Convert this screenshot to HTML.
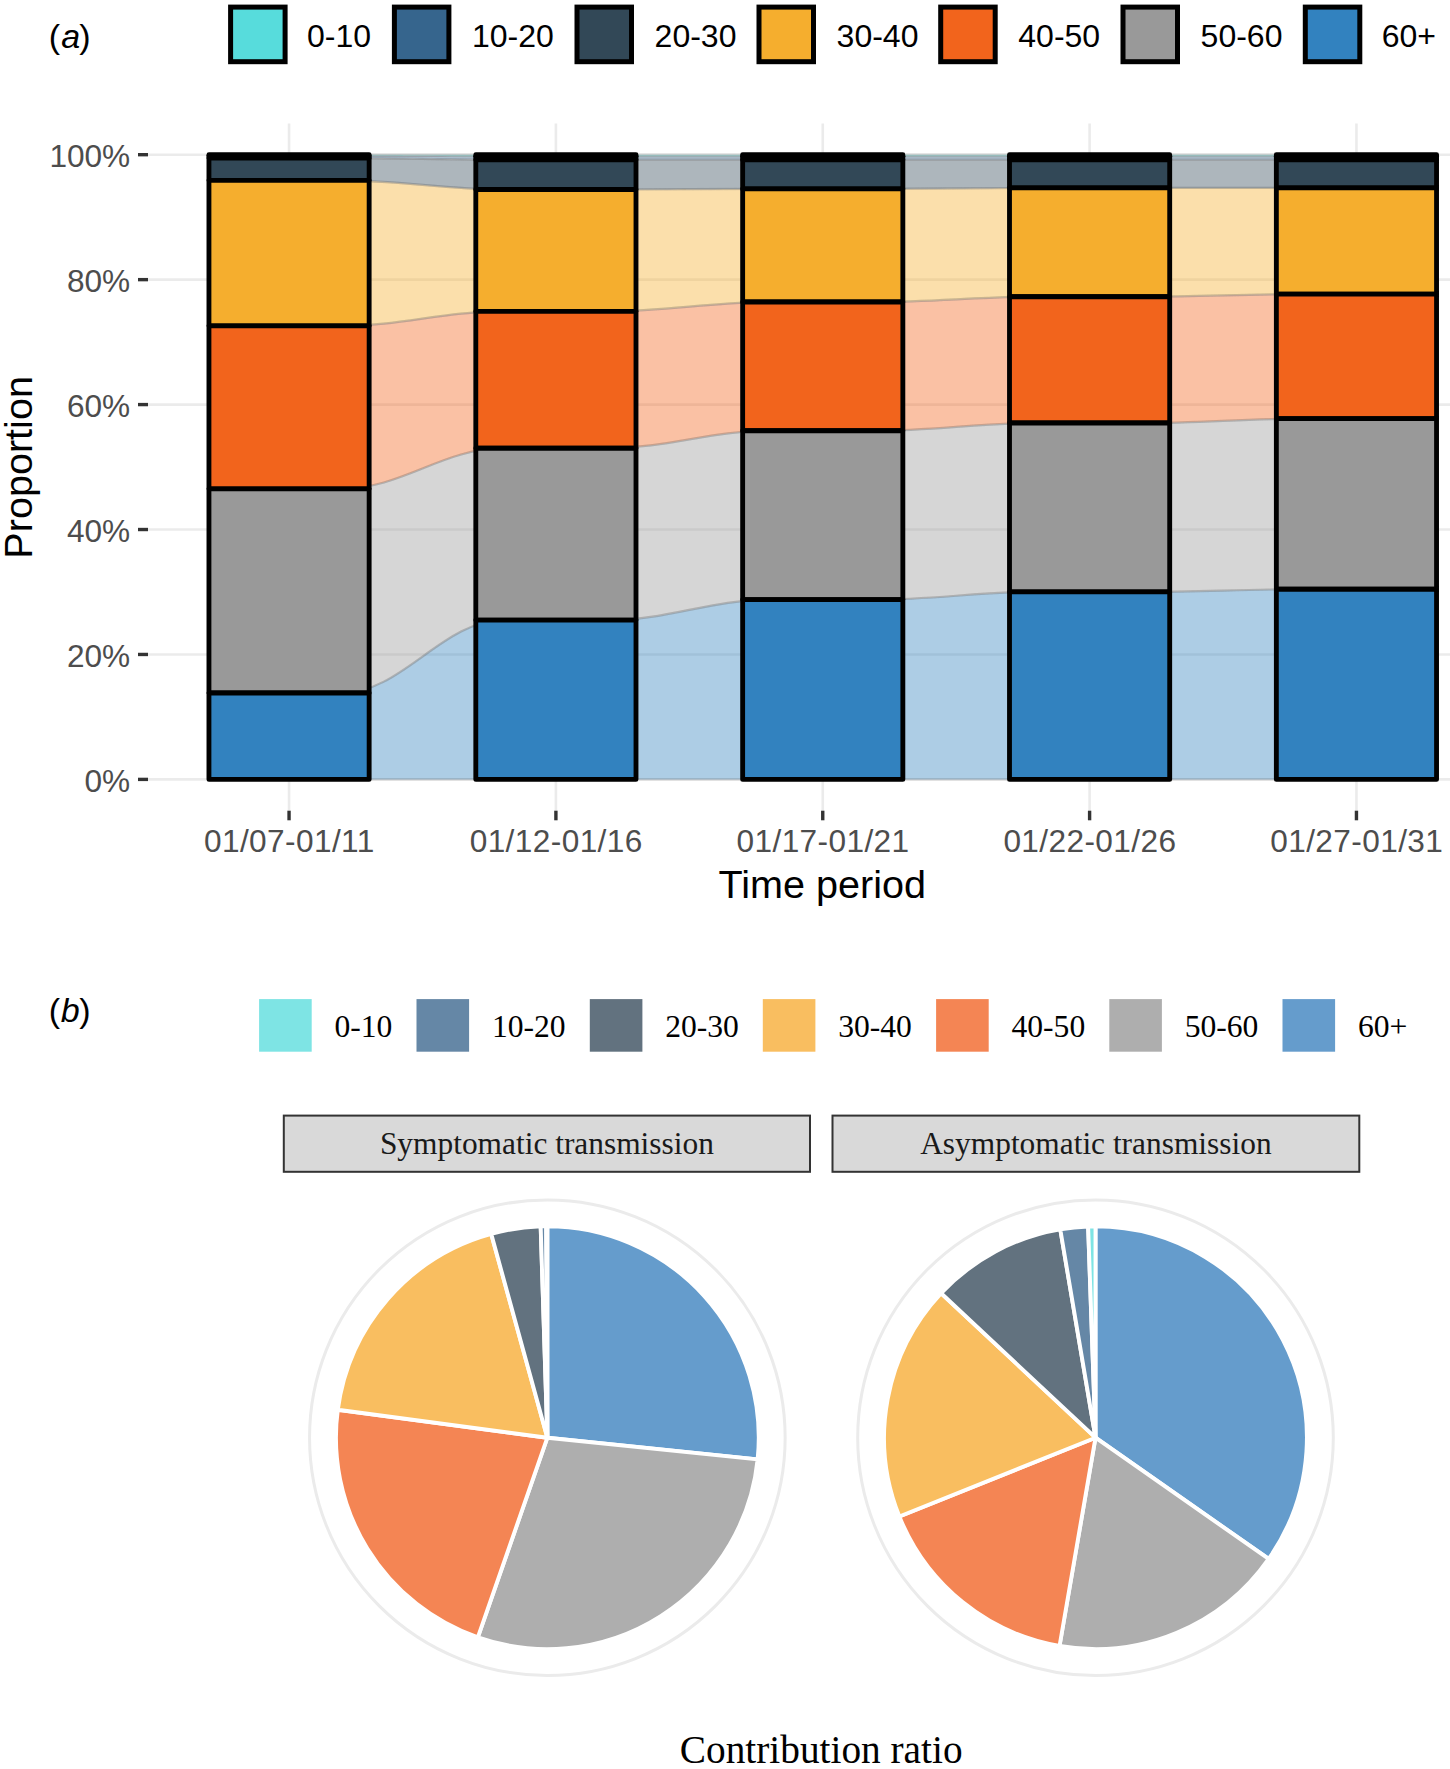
<!DOCTYPE html>
<html lang="en"><head><meta charset="utf-8"><title>Figure</title>
<style>html,body{margin:0;padding:0;background:#fff}svg{display:block}</style></head>
<body>
<svg width="1450" height="1769" viewBox="0 0 1450 1769">
<rect width="1450" height="1769" fill="#fff"/>
<g stroke="#ebebeb" stroke-width="2.6" fill="none">
<line x1="148.0" x2="1450" y1="779.40" y2="779.40"/>
<line x1="148.0" x2="1450" y1="654.46" y2="654.46"/>
<line x1="148.0" x2="1450" y1="529.52" y2="529.52"/>
<line x1="148.0" x2="1450" y1="404.58" y2="404.58"/>
<line x1="148.0" x2="1450" y1="279.64" y2="279.64"/>
<line x1="148.0" x2="1450" y1="154.70" y2="154.70"/>
<line x1="289.05" x2="289.05" y1="123.5" y2="810.7"/>
<line x1="555.90" x2="555.90" y1="123.5" y2="810.7"/>
<line x1="822.75" x2="822.75" y1="123.5" y2="810.7"/>
<line x1="1089.60" x2="1089.60" y1="123.5" y2="810.7"/>
<line x1="1356.45" x2="1356.45" y1="123.5" y2="810.7"/>
</g>
<g fill-opacity="0.4" stroke="#808080" stroke-opacity="0.28" stroke-width="2.2">
<path d="M341.05,693.00 C402.93,693.00 442.02,620.10 503.90,620.10 L503.90,779.40 C442.02,779.40 402.93,779.40 341.05,779.40 Z" fill="#3282BF"/>
<path d="M341.05,488.80 C402.93,488.80 442.02,448.20 503.90,448.20 L503.90,620.10 C442.02,620.10 402.93,693.00 341.05,693.00 Z" fill="#999999"/>
<path d="M341.05,325.80 C402.93,325.80 442.02,311.30 503.90,311.30 L503.90,448.20 C442.02,448.20 402.93,488.80 341.05,488.80 Z" fill="#F2641C"/>
<path d="M341.05,180.30 C402.93,180.30 442.02,189.50 503.90,189.50 L503.90,311.30 C442.02,311.30 402.93,325.80 341.05,325.80 Z" fill="#F5AE2E"/>
<path d="M341.05,158.10 C402.93,158.10 442.02,159.70 503.90,159.70 L503.90,189.50 C442.02,189.50 402.93,180.30 341.05,180.30 Z" fill="#324857"/>
<path d="M341.05,155.70 C402.93,155.70 442.02,156.20 503.90,156.20 L503.90,159.70 C442.02,159.70 402.93,158.10 341.05,158.10 Z" fill="#36658D"/>
<path d="M341.05,154.70 C402.93,154.70 442.02,154.70 503.90,154.70 L503.90,156.20 C442.02,156.20 402.93,155.70 341.05,155.70 Z" fill="#57DCDC"/>
<path d="M607.90,620.10 C669.78,620.10 708.87,599.60 770.75,599.60 L770.75,779.40 C708.87,779.40 669.78,779.40 607.90,779.40 Z" fill="#3282BF"/>
<path d="M607.90,448.20 C669.78,448.20 708.87,430.70 770.75,430.70 L770.75,599.60 C708.87,599.60 669.78,620.10 607.90,620.10 Z" fill="#999999"/>
<path d="M607.90,311.30 C669.78,311.30 708.87,302.00 770.75,302.00 L770.75,430.70 C708.87,430.70 669.78,448.20 607.90,448.20 Z" fill="#F2641C"/>
<path d="M607.90,189.50 C669.78,189.50 708.87,188.90 770.75,188.90 L770.75,302.00 C708.87,302.00 669.78,311.30 607.90,311.30 Z" fill="#F5AE2E"/>
<path d="M607.90,159.70 C669.78,159.70 708.87,159.70 770.75,159.70 L770.75,188.90 C708.87,188.90 669.78,189.50 607.90,189.50 Z" fill="#324857"/>
<path d="M607.90,156.20 C669.78,156.20 708.87,156.20 770.75,156.20 L770.75,159.70 C708.87,159.70 669.78,159.70 607.90,159.70 Z" fill="#36658D"/>
<path d="M607.90,154.70 C669.78,154.70 708.87,154.70 770.75,154.70 L770.75,156.20 C708.87,156.20 669.78,156.20 607.90,156.20 Z" fill="#57DCDC"/>
<path d="M874.75,599.60 C936.63,599.60 975.72,591.90 1037.60,591.90 L1037.60,779.40 C975.72,779.40 936.63,779.40 874.75,779.40 Z" fill="#3282BF"/>
<path d="M874.75,430.70 C936.63,430.70 975.72,423.00 1037.60,423.00 L1037.60,591.90 C975.72,591.90 936.63,599.60 874.75,599.60 Z" fill="#999999"/>
<path d="M874.75,302.00 C936.63,302.00 975.72,296.70 1037.60,296.70 L1037.60,423.00 C975.72,423.00 936.63,430.70 874.75,430.70 Z" fill="#F2641C"/>
<path d="M874.75,188.90 C936.63,188.90 975.72,187.90 1037.60,187.90 L1037.60,296.70 C975.72,296.70 936.63,302.00 874.75,302.00 Z" fill="#F5AE2E"/>
<path d="M874.75,159.70 C936.63,159.70 975.72,159.70 1037.60,159.70 L1037.60,187.90 C975.72,187.90 936.63,188.90 874.75,188.90 Z" fill="#324857"/>
<path d="M874.75,156.20 C936.63,156.20 975.72,156.20 1037.60,156.20 L1037.60,159.70 C975.72,159.70 936.63,159.70 874.75,159.70 Z" fill="#36658D"/>
<path d="M874.75,154.70 C936.63,154.70 975.72,154.70 1037.60,154.70 L1037.60,156.20 C975.72,156.20 936.63,156.20 874.75,156.20 Z" fill="#57DCDC"/>
<path d="M1141.60,591.90 C1203.48,591.90 1242.57,589.20 1304.45,589.20 L1304.45,779.40 C1242.57,779.40 1203.48,779.40 1141.60,779.40 Z" fill="#3282BF"/>
<path d="M1141.60,423.00 C1203.48,423.00 1242.57,418.60 1304.45,418.60 L1304.45,589.20 C1242.57,589.20 1203.48,591.90 1141.60,591.90 Z" fill="#999999"/>
<path d="M1141.60,296.70 C1203.48,296.70 1242.57,294.10 1304.45,294.10 L1304.45,418.60 C1242.57,418.60 1203.48,423.00 1141.60,423.00 Z" fill="#F2641C"/>
<path d="M1141.60,187.90 C1203.48,187.90 1242.57,187.90 1304.45,187.90 L1304.45,294.10 C1242.57,294.10 1203.48,296.70 1141.60,296.70 Z" fill="#F5AE2E"/>
<path d="M1141.60,159.70 C1203.48,159.70 1242.57,159.70 1304.45,159.70 L1304.45,187.90 C1242.57,187.90 1203.48,187.90 1141.60,187.90 Z" fill="#324857"/>
<path d="M1141.60,156.20 C1203.48,156.20 1242.57,156.20 1304.45,156.20 L1304.45,159.70 C1242.57,159.70 1203.48,159.70 1141.60,159.70 Z" fill="#36658D"/>
<path d="M1141.60,154.70 C1203.48,154.70 1242.57,154.70 1304.45,154.70 L1304.45,156.20 C1242.57,156.20 1203.48,156.20 1141.60,156.20 Z" fill="#57DCDC"/>
</g>
<g stroke="#000" stroke-width="4.85" stroke-linejoin="round">
<rect x="208.95" y="154.70" width="160.2" height="1.00" fill="#57DCDC"/>
<rect x="208.95" y="155.70" width="160.2" height="2.40" fill="#36658D"/>
<rect x="208.95" y="158.10" width="160.2" height="22.20" fill="#324857"/>
<rect x="208.95" y="180.30" width="160.2" height="145.50" fill="#F5AE2E"/>
<rect x="208.95" y="325.80" width="160.2" height="163.00" fill="#F2641C"/>
<rect x="208.95" y="488.80" width="160.2" height="204.20" fill="#999999"/>
<rect x="208.95" y="693.00" width="160.2" height="86.40" fill="#3282BF"/>
<rect x="475.80" y="154.70" width="160.2" height="1.50" fill="#57DCDC"/>
<rect x="475.80" y="156.20" width="160.2" height="3.50" fill="#36658D"/>
<rect x="475.80" y="159.70" width="160.2" height="29.80" fill="#324857"/>
<rect x="475.80" y="189.50" width="160.2" height="121.80" fill="#F5AE2E"/>
<rect x="475.80" y="311.30" width="160.2" height="136.90" fill="#F2641C"/>
<rect x="475.80" y="448.20" width="160.2" height="171.90" fill="#999999"/>
<rect x="475.80" y="620.10" width="160.2" height="159.30" fill="#3282BF"/>
<rect x="742.65" y="154.70" width="160.2" height="1.50" fill="#57DCDC"/>
<rect x="742.65" y="156.20" width="160.2" height="3.50" fill="#36658D"/>
<rect x="742.65" y="159.70" width="160.2" height="29.20" fill="#324857"/>
<rect x="742.65" y="188.90" width="160.2" height="113.10" fill="#F5AE2E"/>
<rect x="742.65" y="302.00" width="160.2" height="128.70" fill="#F2641C"/>
<rect x="742.65" y="430.70" width="160.2" height="168.90" fill="#999999"/>
<rect x="742.65" y="599.60" width="160.2" height="179.80" fill="#3282BF"/>
<rect x="1009.50" y="154.70" width="160.2" height="1.50" fill="#57DCDC"/>
<rect x="1009.50" y="156.20" width="160.2" height="3.50" fill="#36658D"/>
<rect x="1009.50" y="159.70" width="160.2" height="28.20" fill="#324857"/>
<rect x="1009.50" y="187.90" width="160.2" height="108.80" fill="#F5AE2E"/>
<rect x="1009.50" y="296.70" width="160.2" height="126.30" fill="#F2641C"/>
<rect x="1009.50" y="423.00" width="160.2" height="168.90" fill="#999999"/>
<rect x="1009.50" y="591.90" width="160.2" height="187.50" fill="#3282BF"/>
<rect x="1276.35" y="154.70" width="160.2" height="1.50" fill="#57DCDC"/>
<rect x="1276.35" y="156.20" width="160.2" height="3.50" fill="#36658D"/>
<rect x="1276.35" y="159.70" width="160.2" height="28.20" fill="#324857"/>
<rect x="1276.35" y="187.90" width="160.2" height="106.20" fill="#F5AE2E"/>
<rect x="1276.35" y="294.10" width="160.2" height="124.50" fill="#F2641C"/>
<rect x="1276.35" y="418.60" width="160.2" height="170.60" fill="#999999"/>
<rect x="1276.35" y="589.20" width="160.2" height="190.20" fill="#3282BF"/>
</g>
<g stroke="#333" stroke-width="3.4" fill="none">
<line x1="138" x2="148.0" y1="779.40" y2="779.40"/>
<line x1="138" x2="148.0" y1="654.46" y2="654.46"/>
<line x1="138" x2="148.0" y1="529.52" y2="529.52"/>
<line x1="138" x2="148.0" y1="404.58" y2="404.58"/>
<line x1="138" x2="148.0" y1="279.64" y2="279.64"/>
<line x1="138" x2="148.0" y1="154.70" y2="154.70"/>
<line x1="289.05" x2="289.05" y1="810.7" y2="820.3000000000001"/>
<line x1="555.90" x2="555.90" y1="810.7" y2="820.3000000000001"/>
<line x1="822.75" x2="822.75" y1="810.7" y2="820.3000000000001"/>
<line x1="1089.60" x2="1089.60" y1="810.7" y2="820.3000000000001"/>
<line x1="1356.45" x2="1356.45" y1="810.7" y2="820.3000000000001"/>
</g>
<g font-family='"Liberation Sans", Arial, Helvetica, sans-serif' font-size="31.6" fill="#4d4d4d">
<text x="130.2" y="791.60" text-anchor="end">0%</text>
<text x="130.2" y="666.66" text-anchor="end">20%</text>
<text x="130.2" y="541.72" text-anchor="end">40%</text>
<text x="130.2" y="416.78" text-anchor="end">60%</text>
<text x="130.2" y="291.84" text-anchor="end">80%</text>
<text x="130.2" y="166.90" text-anchor="end">100%</text>
</g>
<g font-family='"Liberation Sans", Arial, Helvetica, sans-serif' font-size="31.6" letter-spacing="0.4" fill="#4d4d4d">
<text x="289.35" y="852.3" text-anchor="middle">01/07-01/11</text>
<text x="556.20" y="852.3" text-anchor="middle">01/12-01/16</text>
<text x="823.05" y="852.3" text-anchor="middle">01/17-01/21</text>
<text x="1089.90" y="852.3" text-anchor="middle">01/22-01/26</text>
<text x="1356.75" y="852.3" text-anchor="middle">01/27-01/31</text>
</g>
<g font-family='"Liberation Sans", Arial, Helvetica, sans-serif' font-size="39.6" fill="#000">
<text x="822.3" y="897.5" text-anchor="middle">Time period</text>
<text transform="translate(31.7,467.4) rotate(-90)" text-anchor="middle">Proportion</text>
</g>
<g stroke="#000" stroke-width="5">
<rect x="230.60" y="7.1" width="54.5" height="54.6" fill="#57DCDC"/>
<rect x="394.40" y="7.1" width="54.5" height="54.6" fill="#36658D"/>
<rect x="577.00" y="7.1" width="54.5" height="54.6" fill="#324857"/>
<rect x="759.00" y="7.1" width="54.5" height="54.6" fill="#F5AE2E"/>
<rect x="940.70" y="7.1" width="54.5" height="54.6" fill="#F2641C"/>
<rect x="1123.00" y="7.1" width="54.5" height="54.6" fill="#999999"/>
<rect x="1305.30" y="7.1" width="54.5" height="54.6" fill="#3282BF"/>
</g>
<g font-family='"Liberation Sans", Arial, Helvetica, sans-serif' font-size="32" fill="#000">
<text x="307.00" y="46.6">0-10</text>
<text x="472.00" y="46.6">10-20</text>
<text x="654.60" y="46.6">20-30</text>
<text x="836.60" y="46.6">30-40</text>
<text x="1018.30" y="46.6">40-50</text>
<text x="1200.60" y="46.6">50-60</text>
<text x="1381.70" y="46.6">60+</text>
</g>
<g font-family='"Liberation Sans", Arial, Helvetica, sans-serif' font-size="34" fill="#000">
<text x="48.7" y="48.3">(<tspan font-style="italic" dx="1.2">a</tspan><tspan dx="-0.9">)</tspan></text>
<text x="48.7" y="1021.8">(<tspan font-style="italic" dx="0.6">b</tspan><tspan dx="-0.3">)</tspan></text>
</g>
<rect x="259.10" y="999.1" width="52.6" height="52.6" fill="#7EE4E4"/>
<rect x="416.50" y="999.1" width="52.6" height="52.6" fill="#6587A6"/>
<rect x="589.80" y="999.1" width="52.6" height="52.6" fill="#62727F"/>
<rect x="762.80" y="999.1" width="52.6" height="52.6" fill="#F9BE60"/>
<rect x="936.10" y="999.1" width="52.6" height="52.6" fill="#F48554"/>
<rect x="1109.30" y="999.1" width="52.6" height="52.6" fill="#AEAEAE"/>
<rect x="1282.50" y="999.1" width="52.6" height="52.6" fill="#659CCC"/>
<g font-family='"Liberation Serif", "Times New Roman", Times, serif' font-size="31.6" fill="#000">
<text x="334.50" y="1037.1">0-10</text>
<text x="491.90" y="1037.1">10-20</text>
<text x="665.20" y="1037.1">20-30</text>
<text x="838.20" y="1037.1">30-40</text>
<text x="1011.50" y="1037.1">40-50</text>
<text x="1184.70" y="1037.1">50-60</text>
<text x="1357.90" y="1037.1">60+</text>
</g>
<rect x="283.80" y="1115.6" width="526.20" height="56.2" fill="#d9d9d9" stroke="#333" stroke-width="2"/>
<text x="546.90" y="1154.3" text-anchor="middle" font-family='"Liberation Serif", "Times New Roman", Times, serif' font-size="31.4" fill="#1a1a1a">Symptomatic transmission</text>
<rect x="832.50" y="1115.6" width="526.80" height="56.2" fill="#d9d9d9" stroke="#333" stroke-width="2"/>
<text x="1095.90" y="1154.3" text-anchor="middle" font-family='"Liberation Serif", "Times New Roman", Times, serif' font-size="31.4" fill="#1a1a1a">Asymptomatic transmission</text>
<circle cx="547.35" cy="1437.7" r="237.8" fill="none" stroke="#ebebeb" stroke-width="3"/>
<circle cx="1095.5" cy="1437.7" r="237.8" fill="none" stroke="#ebebeb" stroke-width="3"/>
<g stroke="#fff" stroke-width="3.9" stroke-linejoin="round">
<path d="M547.35,1437.70 L547.35,1226.30 A211.4,211.4 0 0 1 757.63,1459.43 Z" fill="#659CCC"/>
<path d="M547.35,1437.70 L757.63,1459.43 A211.4,211.4 0 0 1 477.83,1637.34 Z" fill="#AEAEAE"/>
<path d="M547.35,1437.70 L477.83,1637.34 A211.4,211.4 0 0 1 337.81,1409.74 Z" fill="#F48554"/>
<path d="M547.35,1437.70 L337.81,1409.74 A211.4,211.4 0 0 1 491.21,1233.89 Z" fill="#F9BE60"/>
<path d="M547.35,1437.70 L491.21,1233.89 A211.4,211.4 0 0 1 540.67,1226.41 Z" fill="#62727F"/>
<path d="M547.35,1437.70 L540.67,1226.41 A211.4,211.4 0 0 1 546.21,1226.30 Z" fill="#6587A6"/>
<path d="M547.35,1437.70 L546.21,1226.30 A211.4,211.4 0 0 1 547.35,1226.30 Z" fill="#7EE4E4"/>
</g>
<g stroke="#fff" stroke-width="3.9" stroke-linejoin="round">
<path d="M1095.50,1437.70 L1095.50,1226.30 A211.4,211.4 0 0 1 1268.67,1558.95 Z" fill="#659CCC"/>
<path d="M1095.50,1437.70 L1268.67,1558.95 A211.4,211.4 0 0 1 1059.52,1646.02 Z" fill="#AEAEAE"/>
<path d="M1095.50,1437.70 L1059.52,1646.02 A211.4,211.4 0 0 1 899.36,1516.55 Z" fill="#F48554"/>
<path d="M1095.50,1437.70 L899.36,1516.55 A211.4,211.4 0 0 1 941.14,1293.26 Z" fill="#F9BE60"/>
<path d="M1095.50,1437.70 L941.14,1293.26 A211.4,211.4 0 0 1 1060.25,1229.26 Z" fill="#62727F"/>
<path d="M1095.50,1437.70 L1060.25,1229.26 A211.4,211.4 0 0 1 1088.12,1226.43 Z" fill="#6587A6"/>
<path d="M1095.50,1437.70 L1088.12,1226.43 A211.4,211.4 0 0 1 1095.50,1226.30 Z" fill="#7EE4E4"/>
</g>
<text x="821.2" y="1762.9" text-anchor="middle" font-family='"Liberation Serif", "Times New Roman", Times, serif' font-size="39.3" fill="#000">Contribution ratio</text>
</svg>
</body></html>
